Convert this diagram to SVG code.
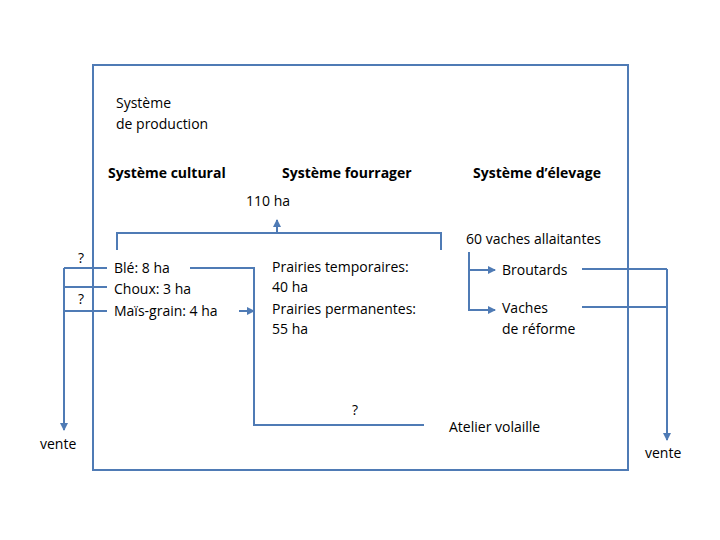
<svg xmlns="http://www.w3.org/2000/svg" width="720" height="540" viewBox="0 0 720 540">
<defs><marker id="a" markerWidth="8" markerHeight="8" refX="7" refY="4" orient="auto" markerUnits="userSpaceOnUse"><path d="M0,0 L8,4 L0,8 Z" fill="#4f7bb5"/></marker></defs>
<style>text{font-family:"Open Sans","Liberation Sans",sans-serif;font-size:14px;fill:#000}.b{font-weight:bold}.l{fill:none;stroke:#4f7bb5;stroke-width:2}</style>
<rect width="720" height="540" fill="#fff"/>
<g id="box"><rect x="93" y="65" width="535" height="405" class="l"/></g>
<g id="connectors">
<path class="l" d="M117,250 V233 H441 V250"/>
<path class="l" d="M277,233 V220" marker-end="url(#a)"/>
<path class="l" d="M64,268 H107 M64,287 H107 M64,311 H107 M64,268 V430" marker-end="url(#a)"/>
<path class="l" d="M190,268 H254 V425 H424 M239,311 H254" marker-end="url(#a)"/>
<path class="l" d="M469,252 V270 H495" marker-end="url(#a)"/>
<path class="l" d="M469,270 V310 H495" marker-end="url(#a)"/>
<path class="l" d="M582,269 H667 M582,307 H667 M667,269 V440" marker-end="url(#a)"/>
</g>
<g id="texts">
<text x="116" y="108">Système</text><text x="116" y="129">de production</text>
<text x="108" y="178" class="b">Système cultural</text>
<text x="282" y="178" class="b">Système fourrager</text>
<text x="473" y="178" class="b">Système d’élevage</text>
<text x="246" y="206">110 ha</text>
<text x="78" y="263">?</text><text x="78" y="304">?</text>
<text x="114" y="273">Blé: 8 ha</text>
<text x="114" y="294">Choux: 3 ha</text>
<text x="114" y="316">Maïs-grain: 4 ha</text>
<text x="272" y="272">Prairies temporaires:</text>
<text x="272" y="292">40 ha</text>
<text x="272" y="314">Prairies permanentes:</text>
<text x="272" y="334">55 ha</text>
<text x="466" y="244">60 vaches allaitantes</text>
<text x="502" y="275">Broutards</text>
<text x="502" y="313">Vaches</text><text x="502" y="334">de réforme</text>
<text x="352" y="415">?</text>
<text x="449" y="432">Atelier volaille</text>
<text x="40" y="449">vente</text>
<text x="645" y="458">vente</text>
</g>
</svg>
